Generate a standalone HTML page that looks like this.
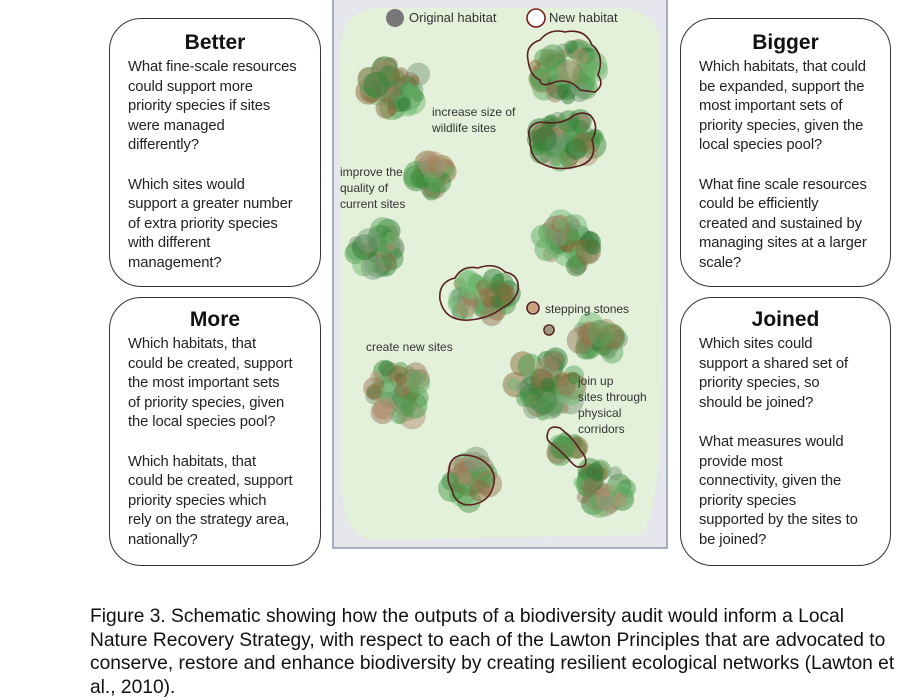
<!DOCTYPE html>
<html><head><meta charset="utf-8"><style>
html,body{margin:0;padding:0;background:#fff;width:915px;height:700px;overflow:hidden}
.box{position:absolute;border:1.3px solid #333;border-radius:32px;background:#fff;box-sizing:border-box;font-family:"Liberation Sans",sans-serif;color:#222}
.box h3{margin:0 0 3px 0;text-align:center;font-size:21px;font-weight:bold;color:#111;line-height:25px}
.box p{margin:0;font-size:14.8px;line-height:19.6px;white-space:nowrap;letter-spacing:-0.1px}
.cap{position:absolute;left:90px;top:605px;font-family:"Liberation Sans",sans-serif;font-size:19.2px;line-height:23.7px;color:#111;white-space:nowrap}
</style></head><body>
<svg width="915" height="700" style="position:absolute;left:0;top:0">
<rect x="333" y="-2" width="334" height="550" fill="#e6e7ec" stroke="#8d97ad" stroke-width="1.5"/>
<path d="M350,20 Q360,5 400,8 L620,8 Q655,10 660,40 L662,300 Q665,520 640,535 L370,540 Q340,530 342,480 L340,60 Q340,30 350,20Z" fill="#e3f0da"/>
<g id="cl"></g>
<g fill="none" stroke="#5a2020" stroke-width="1.6">
<path d="M528,60 Q525,45 540,40 Q550,28 565,32 Q585,28 592,45 Q605,55 598,75 Q605,85 595,92 L580,90 Q570,78 555,82 Q540,88 540,80 Q530,76 528,60Z"/>
<path d="M530,140 Q525,125 540,122 Q560,125 570,118 Q580,110 590,115 Q600,125 592,140 Q598,158 582,165 Q560,172 545,165 Q530,160 530,140Z"/>
<path d="M440,300 Q438,282 455,278 Q462,265 478,268 Q495,262 505,272 Q520,275 518,290 Q515,302 502,308 Q490,318 470,320 Q445,322 440,300Z"/>
<path d="M548,432 Q550,425 560,428 Q575,440 580,450 Q588,458 585,465 Q578,470 572,463 Q560,450 552,444 Q545,440 548,432Z"/>
<path d="M449,470 Q450,455 465,455 Q480,456 488,465 Q498,475 492,490 Q487,503 470,505 Q455,505 452,490 Q446,480 449,470Z"/>
<circle cx="533" cy="308" r="6"/><circle cx="549" cy="330" r="5"/>
</g>
<circle cx="395" cy="18" r="9" fill="#777"/>
<circle cx="536" cy="18" r="9" fill="#fff" stroke="#7a2020" stroke-width="1.6"/>
<g font-family="Liberation Sans,sans-serif" fill="#333" font-size="12">
<text x="409" y="22" font-size="13">Original habitat</text>
<text x="549" y="22" font-size="13">New habitat</text>
<text x="432" y="116">increase size of</text><text x="432" y="132">wildlife sites</text>
<text x="340" y="176">improve the</text><text x="340" y="192">quality of</text><text x="340" y="208">current sites</text>
<text x="545" y="313">stepping stones</text>
<text x="366" y="351">create new sites</text>
<text x="578" y="385">join up</text><text x="578" y="401">sites through</text><text x="578" y="417">physical</text><text x="578" y="433">corridors</text>
</g>
</svg>
<div class="box" style="left:109px;top:18px;width:212px;height:269px;padding:11px 0 0 18px"><h3 style="margin-left:-18px">Better</h3><p>What fine-scale resources<br>could support more<br>priority species if sites<br>were managed<br>differently?<br><br>Which sites would<br>support a greater number<br>of extra priority species<br>with different<br>management?</p></div>
<div class="box" style="left:109px;top:297px;width:212px;height:269px;padding:9px 0 0 18px"><h3 style="margin-left:-18px">More</h3><p>Which habitats, that<br>could be created, support<br>the most important sets<br>of priority species, given<br>the local species pool?<br><br>Which habitats, that<br>could be created, support<br>priority species which<br>rely on the strategy area,<br>nationally?</p></div>
<div class="box" style="left:680px;top:18px;width:211px;height:269px;padding:11px 0 0 18px"><h3 style="margin-left:-18px">Bigger</h3><p>Which habitats, that could<br>be expanded, support the<br>most important sets of<br>priority species, given the<br>local species pool?<br><br>What fine scale resources<br>could be efficiently<br>created and sustained by<br>managing sites at a larger<br>scale?</p></div>
<div class="box" style="left:680px;top:297px;width:211px;height:269px;padding:9px 0 0 18px"><h3 style="margin-left:-18px">Joined</h3><p>Which sites could<br>support a shared set of<br>priority species, so<br>should be joined?<br><br>What measures would<br>provide most<br>connectivity, given the<br>priority species<br>supported by the sites to<br>be joined?</p></div>
<div class="cap">Figure 3. Schematic showing how the outputs of a biodiversity audit would inform a Local<br>Nature Recovery Strategy, with respect to each of the Lawton Principles that are advocated to<br>conserve, restore and enhance biodiversity by creating resilient ecological networks (Lawton et<br>al., 2010).</div>
<script>
var s=7;function r(){s=(s*9301+49297)%233280;return s/233280;}
var cols=["#4a9a4a","#3c8a3c","#6fb86f","#8a6a3a","#9a7a5a","#7a9a7a","#2f7a35","#b09070","#5fa860"];
var cl=[[395,85,28,26,55],[566,70,32,28,60],[565,140,32,22,55],[434,176,18,16,30],[376,248,22,22,35],[568,244,28,24,40],[480,295,32,22,45],[597,340,22,18,30],[398,393,28,28,40],[545,385,32,30,55],[567,448,12,10,12],[470,480,20,22,30],[603,487,25,20,35]];
var g=document.getElementById("cl"),h="";
cl.forEach(function(c){for(var i=0;i<c[4];i++){var a=r()*6.283,d=Math.sqrt(r());var x=c[0]+Math.cos(a)*d*c[2],y=c[1]+Math.sin(a)*d*c[3];h+='<circle cx="'+x.toFixed(1)+'" cy="'+y.toFixed(1)+'" r="'+(5+r()*9).toFixed(1)+'" fill="'+cols[Math.floor(r()*cols.length)]+'" opacity="0.5"/>';}});
h+='<circle cx="533" cy="308" r="5" fill="#c9a080"/><circle cx="549" cy="330" r="4" fill="#9a9a80"/>';
g.innerHTML=h;
</script>
</body></html>
